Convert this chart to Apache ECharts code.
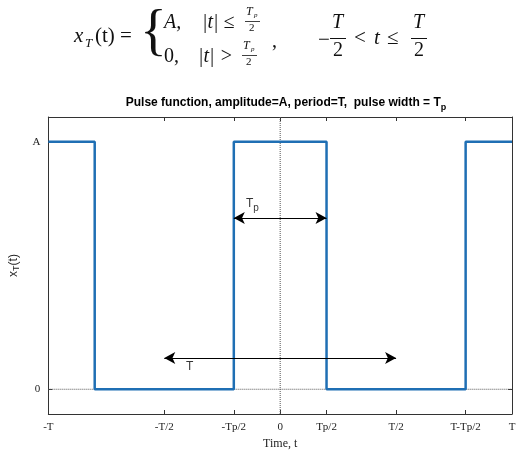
<!DOCTYPE html>
<html><head><meta charset="utf-8">
<script src="https://cdn.jsdelivr.net/npm/echarts@6/dist/echarts.min.js"></script>
<style>html,body{margin:0;padding:0;background:#fff}#c{width:532px;height:465px}</style>
</head><body><div id="c"></div>
<script>
// period T = 1, pulse width Tp = 0.4, amplitude A = 1
var pulseX = [-1, -0.8, -0.8, -0.2, -0.2, 0.2, 0.2, 0.8, 0.8, 1];
var pulseY = [1, 1, 0, 0, 1, 1, 0, 0, 1, 1];
var tickVals = [-1, -0.5, -0.2, 0, 0.2, 0.5, 0.8, 1];
var tickNames = ['-T', '-T/2', '-Tp/2', '0', 'Tp/2', 'T/2', 'T-Tp/2', 'T'];
var tpArrow = [[-0.2, 0.692], [0.2, 0.692]];
var tArrow = [[-0.5, 0.126], [0.5, 0.126]];
var notes = [[-0.12, 0.75, 'tp'], [-0.39, 0.09, 't']];

var chart = echarts.init(document.getElementById('c'));
var serif = 'Liberation Serif';
var labelMap = {};
tickVals.forEach(function (v, i) { labelMap[v] = tickNames[i]; });

var axisCommon = {
  axisLine: { show: true, onZero: false, lineStyle: { color: '#333', width: 1 } },
  splitLine: { show: false }
};

chart.setOption({
  animation: false,
  title: {
    text: 'Pulse function, amplitude=A, period=T,  pulse width = T{s|p}',
    left: 281, top: 88, textAlign: 'center',
    textStyle: { fontFamily: 'Liberation Sans', fontSize: 12, fontWeight: 'bold', color: '#000',
      rich: { s: { fontSize: 9, fontWeight: 'bold', padding: [10, 0, 0, 0], fontFamily: 'Liberation Sans' } } }
  },
  grid: { left: 47, right: 20, top: 117, bottom: 51 },
  xAxis: [Object.assign({
    type: 'value', min: -1, max: 1,
    name: 'Time, t', nameLocation: 'middle', nameGap: 19,
    nameTextStyle: { fontFamily: serif, fontSize: 12, color: '#222' },
    axisTick: { show: true, inside: true, customValues: tickVals, length: 4 },
    axisLabel: { customValues: tickVals, formatter: function (v) { return labelMap[v]; },
      fontFamily: serif, fontSize: 11, color: '#222', margin: 8 }
  }, axisCommon), Object.assign({
    type: 'value', min: -1, max: 1, position: 'top',
    axisTick: { show: true, inside: true, customValues: tickVals, length: 4 },
    axisLabel: { show: false }
  }, axisCommon)],
  yAxis: [Object.assign({
    type: 'value', min: -0.1, max: 1.1,
    name: 'x{s|T}(t)', nameLocation: 'middle', nameGap: 24,
    nameTextStyle: { fontFamily: 'Liberation Sans', fontSize: 12, color: '#222',
      rich: { s: { fontSize: 9, padding: [6, 0, 0, 0] } } },
    axisTick: { show: true, inside: true, customValues: [0, 1], length: 4 },
    axisLabel: { customValues: [0, 1], formatter: function (v) { return v === 1 ? 'A' : '0'; },
      fontFamily: serif, fontSize: 11, color: '#222', margin: 8 }
  }, axisCommon), Object.assign({
    type: 'value', min: -0.1, max: 1.1, position: 'right',
    axisTick: { show: true, inside: true, customValues: [0, 1], length: 4 },
    axisLabel: { show: false }
  }, axisCommon)],
  series: [
    {
      type: 'line', data: [[-1, 0], [1, 0]], symbol: 'none', silent: true,
      lineStyle: { color: '#555', width: 1, type: 'dotted' }
    },
    {
      type: 'line', data: [[0, -0.1], [0, 1.1]], symbol: 'none', silent: true,
      lineStyle: { color: '#555', width: 1, type: 'dotted' }
    },
    {
      type: 'line', symbol: 'none',
      data: pulseX.map(function (x, i) { return [x, pulseY[i]]; }),
      lineStyle: { color: '#1f6fb4', width: 2.5 },
      markLine: {
        silent: true, symbol: ['arrow', 'arrow'], symbolSize: [9, 11],
        label: { show: false },
        lineStyle: { color: '#000', width: 1, type: 'solid' },
        data: [
          [{ coord: tpArrow[0] }, { coord: tpArrow[1] }],
          [{ coord: tArrow[0] }, { coord: tArrow[1] }]
        ]
      }
    },
    {
      type: 'scatter', symbolSize: 0,
      data: notes.map(function (n) { return [n[0], n[1], n[2]]; }),
      label: {
        show: true, position: 'inside', color: '#000', fontFamily: 'Liberation Sans', fontSize: 12,
        formatter: function (p) { return p.value[2] === 'tp' ? 'T{s|p}' : 'T'; },
        rich: { s: { fontSize: 10, padding: [10, 0, 0, 0] } }
      }
    }
  ],
  graphic: [
    { type: 'text', left: 74, top: 26, style: { text: 'x', font: 'italic 21px "Liberation Serif"', fill: '#111' } },
    { type: 'text', left: 85, top: 37, style: { text: 'T', font: 'italic 13px "Liberation Serif"', fill: '#111' } },
    { type: 'text', left: 95, top: 26, style: { text: '(t) =', font: '21px "Liberation Serif"', fill: '#111' } },
    { type: 'text', left: 140, top: 6, style: { text: '{', font: '300 56px "Liberation Serif"', fill: '#111' } },
    { type: 'text', left: 164, top: 13, style: { text: 'A,', font: 'italic 20px "Liberation Serif"', fill: '#111' } },
    { type: 'text', left: 202, top: 13, style: { text: '|t| ≤', font: 'italic 20px "Liberation Serif"', fill: '#111' } },
    { type: 'text', left: 246, top: 6, style: { text: 'T', font: 'italic 12px "Liberation Serif"', fill: '#111' } },
    { type: 'text', left: 254, top: 12, style: { text: 'p', font: 'italic 7px "Liberation Serif"', fill: '#111' } },
    { type: 'rect', shape: { x: 245, y: 21, width: 15, height: 0.8 }, style: { fill: '#111' } },
    { type: 'text', left: 249, top: 23, style: { text: '2', font: '11px "Liberation Serif"', fill: '#111' } },
    { type: 'text', left: 164, top: 47, style: { text: '0,', font: '20px "Liberation Serif"', fill: '#111' } },
    { type: 'text', left: 198, top: 47, style: { text: '|t| >', font: 'italic 20px "Liberation Serif"', fill: '#111' } },
    { type: 'text', left: 243, top: 40, style: { text: 'T', font: 'italic 12px "Liberation Serif"', fill: '#111' } },
    { type: 'text', left: 251, top: 46, style: { text: 'p', font: 'italic 7px "Liberation Serif"', fill: '#111' } },
    { type: 'rect', shape: { x: 242, y: 55, width: 15, height: 0.8 }, style: { fill: '#111' } },
    { type: 'text', left: 246, top: 57, style: { text: '2', font: '11px "Liberation Serif"', fill: '#111' } },
    { type: 'text', left: 272, top: 32, style: { text: ',', font: '20px "Liberation Serif"', fill: '#111' } },
    { type: 'text', left: 318, top: 30, style: { text: '−', font: '21px "Liberation Serif"', fill: '#111' } },
    { type: 'text', left: 332, top: 13, style: { text: 'T', font: 'italic 20px "Liberation Serif"', fill: '#111' } },
    { type: 'rect', shape: { x: 330, y: 38, width: 16, height: 1 }, style: { fill: '#111' } },
    { type: 'text', left: 333, top: 41, style: { text: '2', font: '20px "Liberation Serif"', fill: '#111' } },
    { type: 'text', left: 354, top: 28, style: { text: '<', font: '21px "Liberation Serif"', fill: '#111' } },
    { type: 'text', left: 374, top: 28, style: { text: 't', font: 'italic 21px "Liberation Serif"', fill: '#111' } },
    { type: 'text', left: 387, top: 28, style: { text: '≤', font: '21px "Liberation Serif"', fill: '#111' } },
    { type: 'text', left: 413, top: 13, style: { text: 'T', font: 'italic 20px "Liberation Serif"', fill: '#111' } },
    { type: 'rect', shape: { x: 411, y: 38, width: 16, height: 1 }, style: { fill: '#111' } },
    { type: 'text', left: 414, top: 41, style: { text: '2', font: '20px "Liberation Serif"', fill: '#111' } }
  ]
});
</script></body></html>
